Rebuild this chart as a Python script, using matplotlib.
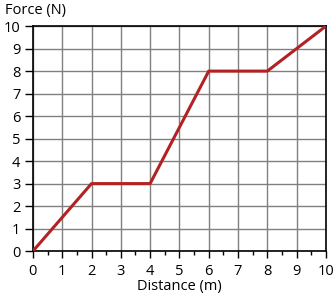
import numpy as np
import matplotlib.pyplot as plt
from matplotlib.ticker import MultipleLocator

# data
distance = [0, 2, 4, 6, 8, 10]
force = [0, 3, 3, 8, 8, 10]
x_ticks = list(range(0, 11))
y_ticks = list(range(0, 11))

plt.rcParams['font.family'] = ['Open Sans', 'DejaVu Sans']

fig = plt.figure(figsize=(3.36, 3.0), dpi=100)
ax = fig.add_axes([0.098, 0.163, 0.872, 0.750])

ax.plot(distance, force, color="#b22222", lw=2.2, solid_capstyle="butt", zorder=3)

ax.set_xlim(0, 10)
ax.set_ylim(0, 10)
ax.set_xticks(x_ticks)
ax.set_yticks(y_ticks)
ax.xaxis.set_minor_locator(MultipleLocator(0.5))
ax.grid(True, which="major", color="#808080", lw=1.0)
ax.set_axisbelow(True)

ax.tick_params(axis="x", which="major", direction="out", length=5, width=1, labelsize=10.5, pad=4)
ax.tick_params(axis="x", which="minor", direction="out", length=3, width=1)
ax.tick_params(axis="y", which="major", direction="out", length=6, width=1, labelsize=10.5, pad=3)
for s in ax.spines.values():
    s.set_color("black")
    s.set_linewidth(1.2)

ax.set_xlabel("Distance (m)", fontsize=10.5, labelpad=0)
ax.text(-0.095, 1.035, "Force (N)", transform=ax.transAxes, fontsize=10.5, ha="left", va="bottom")

fig.savefig("out.png", dpi=100)
